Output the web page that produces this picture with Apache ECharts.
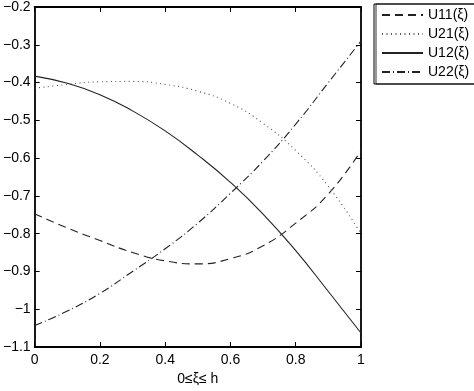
<!DOCTYPE html>
<html><head><meta charset="utf-8">
<script src="https://cdn.jsdelivr.net/npm/echarts@6/dist/echarts.min.js"></script>
<style>html,body{margin:0;padding:0;background:#fff}#c{width:474px;height:391px}</style>
</head><body><div id="c"></div>
<script>
const xs = [0, 0.1, 0.2, 0.3, 0.4, 0.5, 0.6, 0.7, 0.8, 0.9, 1.0];
const U11 = [-0.747, -0.785, -0.818, -0.850, -0.872, -0.880, -0.866, -0.832, -0.772, -0.695, -0.580];
const U21 = [-0.415, -0.405, -0.398, -0.397, -0.405, -0.423, -0.455, -0.508, -0.580, -0.675, -0.800];
const U12 = [-0.383, -0.402, -0.432, -0.475, -0.528, -0.592, -0.664, -0.748, -0.845, -0.953, -1.063];
const U22 = [-1.043, -1.005, -0.958, -0.900, -0.840, -0.772, -0.693, -0.608, -0.510, -0.400, -0.290];
const names = ['U11(ξ)', 'U21(ξ)', 'U12(ξ)', 'U22(ξ)'];
const xLabel = '0≤ξ≤ h';

const font = 'Liberation Sans, Arial, sans-serif';
const chart = echarts.init(document.getElementById('c'), null, {renderer: 'canvas'});
const pair = arr => xs.map((x, i) => [x, arr[i]]);
const styles = [
  {type: [8, 5], width: 1.1, color: '#222'},
  {type: [1, 3.5], width: 1.1, color: '#555'},
  {type: 'solid', width: 1.1, color: '#222'},
  {type: [8, 3, 1, 3], width: 1.1, color: '#222'}
];
const data = [U11, U21, U12, U22];
const fmtY = v => {
  const r = Math.round(v * 10) / 10;
  if (r === 0) return '0';
  return (r < 0 ? '\u2212' : '') + String(Math.abs(r));
};
const axisCommon = {
  axisLine: {show: true, onZero: false, lineStyle: {color: '#000', width: 1.8}},
  axisTick: {show: true, inside: true, length: 5, lineStyle: {color: '#000', width: 1}},
  splitLine: {show: false}
};
chart.setOption({
  animation: false,
  backgroundColor: '#fff',
  grid: {left: 31, right: 113, top: 3, bottom: 38},
  xAxis: [
    Object.assign({type: 'value', min: 0, max: 1, interval: 0.2, position: 'bottom',
      name: xLabel, nameLocation: 'middle', nameGap: 25,
      nameTextStyle: {fontFamily: font, fontSize: 14, color: '#000'},
      axisLabel: {fontFamily: font, fontSize: 14, color: '#000', margin: 6,
        formatter: v => String(Math.round(v * 10) / 10)}}, axisCommon),
    Object.assign({type: 'value', min: 0, max: 1, interval: 0.2, position: 'top',
      axisLabel: {show: false}}, axisCommon)
  ],
  yAxis: [
    Object.assign({type: 'value', min: -1.1, max: -0.2, interval: 0.1, position: 'left',
      axisLabel: {fontFamily: font, fontSize: 14, color: '#000', margin: 4, formatter: fmtY}}, axisCommon),
    Object.assign({type: 'value', min: -1.1, max: -0.2, interval: 0.1, position: 'right',
      axisLabel: {show: false}}, axisCommon)
  ],
  legend: {
    orient: 'vertical', left: 374, top: 4,
    padding: [4, 9, 5, 7], itemGap: 5, itemWidth: 41, itemHeight: 14,
    backgroundColor: '#fff', borderColor: '#000', borderWidth: 1,
    shadowColor: '#333', shadowOffsetX: 2, shadowOffsetY: 0, shadowBlur: 0,
    itemStyle: {opacity: 0},
    textStyle: {fontFamily: font, fontSize: 14, color: '#000'},
    data: names
  },
  series: names.map((n, i) => ({
    name: n, type: 'line', data: pair(data[i]), smooth: true,
    showSymbol: false, symbol: 'none', lineStyle: styles[i],
    itemStyle: {color: styles[i].color}
  }))
});
</script></body></html>
